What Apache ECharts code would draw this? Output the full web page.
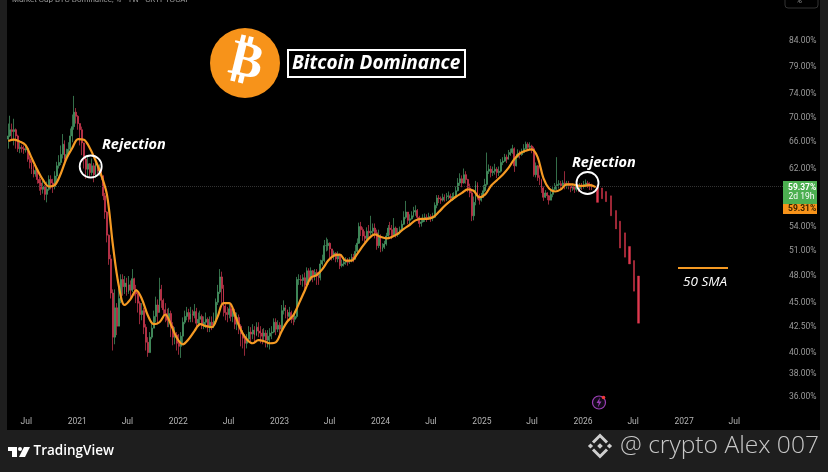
<!DOCTYPE html>
<html><head><meta charset="utf-8">
<style>html,body{margin:0;padding:0;background:#1e1e1e;overflow:hidden}#c{width:828px;height:472px;filter:blur(0.35px)}</style>
<script src="https://cdn.jsdelivr.net/npm/echarts@6/dist/echarts.min.js"></script>
</head><body><div id="c"></div>
<script>
const firstWeek = Date.UTC(2020,3,27);
const firstOpen = 66.5;
const closes = [
67,68,67.7,68,67,65,65.2,65,64.8,65,
63.4,62.9,61.9,61.2,61.7,60.4,59.9,59,59.4,58.3,
59,60.4,59.9,59.4,60.9,62.4,62.9,64.1,65.7,63.4,
64.1,64.9,67,68.5,70.9,70.2,69,68,65.9,63.4,
61.9,62.7,61.4,62.4,61.1,62.7,61.6,61.9,60.9,58.1,
55.9,52.9,50,46.1,41.5,44.5,42.6,45.5,47.6,46.8,
47.2,46.2,47,46.4,47.7,46.5,46,45,43.8,44.2,
42.5,41,40,41.5,42.4,43.6,44.8,44,46.5,45.3,
44.3,43.9,43.2,43.9,42.6,41.5,41.7,40.9,40.6,41.6,
43,43.6,44,43.3,43.9,43.7,44.1,42.9,43.3,43.6,
42.8,43,43.3,42.6,43,42.7,43.1,45.1,46.2,47.9,
46.6,44.7,44,43.8,44.4,43.6,44,42.8,43.5,42.6,
41.8,41.4,40.9,41.3,42,41.8,42.2,41.7,42.5,42.1,
41.9,41.6,41.9,41.2,41.6,41.9,42,43,42.3,42.7,
42.3,44.2,44.5,44.3,43.6,44,43.4,43.3,43.6,47.6,
47.6,47.5,47.8,47,48.6,47.6,48.6,48,48.4,48,
47.8,49.4,49.8,51.6,51.6,51.9,51.2,50.3,50.7,50,
50.5,49.2,49.4,49.6,49.8,49.6,49.8,50.2,50,50.9,
51.9,54,53.6,52.8,52.5,53.4,53.2,53.4,53.8,53.2,
51.6,52.8,51.2,51.4,51.8,52.8,53.8,53.6,52.8,53.8,
53,53.2,53.6,54.3,55.2,55.9,54.8,55,55.4,55.9,
56.1,55.2,54.4,54.6,55,55.2,55,55.3,55.1,55.2,
56.8,57.8,57.7,57.5,57.9,57.8,58,58.1,57.8,58,
58,58.8,59.9,60.5,59.9,61.1,60.4,59.2,58.5,55.4,
57.2,59.7,58.1,57.5,57.9,58.8,59.7,61.6,61.9,61.4,
61.6,61.9,61.4,61.6,62.9,63.1,63.7,63.4,64.1,64.4,
65,62.4,63.7,64.3,64.1,64.4,65,65.7,65.2,65.4,
65,61.1,62.4,60.7,60.4,59.2,57.9,58.5,58.1,57.5,
58.3,59,59.5,59.7,59.8,59.5,59.9,59.5,59.8,59.5,
59.2,59.4,59,59.4,59.1,59.5,59.4,59.7,59.9,59.7,59.4,59.37];
const highs = [
69,70.3,69,69.8,68.2,67.2,66,65.6,65.5,65.6,
65,63.8,63.2,62.5,62.5,61.8,60.8,60.5,60.2,59.6,
60.1,61,61,60.5,61.6,63,64,65.5,67.3,66.3,
65,66,68.2,70.5,73.7,71.6,70.4,69,68.5,65.5,
63.8,63.8,62.8,63.5,62.8,63.4,62.5,62.6,62,61,
58.5,56,53,50.5,46.5,46.5,45,47.6,48.2,48.2,
48,47.8,48,47.5,48.8,47.8,47,46.2,45.2,45,
44.5,42.8,41.5,42,43,44.2,45.7,45.4,47.8,47,
45.5,45,44.4,44.5,44.2,43,42.5,42,41.8,42,
43.5,44.2,44.6,44.4,44.6,44.3,44.9,44.5,44,44.2,
43.8,43.6,44,43.5,43.6,43.6,44,45.5,47,48.8,
48.5,47,45,44.6,44.9,44.8,44.6,44.4,44,43.8,
42.8,42.2,41.8,41.8,42.6,42.5,42.8,42.6,43,43,
42.6,42.3,42.4,42.2,42.2,42.4,42.6,43.4,43.4,43.2,
43,44.8,45.3,44.8,44.2,44.6,44.2,43.8,44.2,47.9,
48.2,48.1,48.2,48.4,49,48.9,49,48.7,48.8,48.8,
48.5,49.9,50.5,52.3,52.6,52.4,52,51.2,51,50.8,
50.9,50.6,49.9,50,50.2,50.1,50.2,50.6,50.6,51.7,
52.5,54.5,54.6,53.9,53.4,53.9,54.2,55.4,54.4,54.4,
53.6,53.6,53,51.9,52.2,53.2,54.2,54.6,54.2,55.1,
54,53.8,54,54.8,56,57.4,55.9,55.6,56,56.6,
56.8,56.3,55.4,55.1,55.6,55.7,55.6,55.8,55.6,55.8,
57.2,58.2,58.2,58,58.4,58.3,58.5,58.7,58.4,58.5,
58.6,59.4,60.6,61.3,61,62,61.6,60.5,59.8,58.9,
58,60.2,60,58.4,58.5,59.6,60.5,64.4,62.6,62.4,
62.3,62.7,62.2,62.3,63.4,63.7,64.2,64.1,64.8,65,
65.6,65.2,64.2,64.9,64.7,65,65.7,66.1,66,66,
65.6,65.3,62.9,62.5,61,60.5,59.4,58.9,58.6,58.2,
58.9,59.5,59.9,63.7,60.3,60.2,60.3,61.6,60.2,60.2,
59.8,59.8,59.6,59.8,59.7,59.9,59.9,60.2,60.4,60.2,60,59.8];
const lows = [
65,66.8,66.5,65.5,65,64.5,64.3,64.4,64.2,64.4,
63,62,61.2,60.7,60.8,59.8,58.8,58.2,58.4,57.5,
57.2,58.8,59,58.5,59,60.2,62,62.5,63.5,63,
63.6,64,64.5,66,68,69,68,65.5,64,62,
60.5,60.8,60.8,61,60,60.6,61,60.9,60.3,57.5,
55,52,49.3,45.5,40.2,40.8,41.7,43.5,45,45.8,
46,45.8,46,45.5,46.2,45.8,45,44,42.8,43.2,
41.8,40.2,39.6,40.4,41.3,42.8,43,42.9,44.5,44.5,
43.5,43,42.5,42.5,41.5,40.7,40.8,40.2,39.8,39.5,
40.8,42.8,43.2,43,43,43,43.4,42.4,42.5,42.6,
42.3,42.3,42.4,42,42,42.2,42.4,43,44.8,46,
44.9,43.6,43.2,43,43.4,43.1,43,42.3,42.2,41.8,
40.6,40.4,39.7,40.4,41,41.1,41.3,41,41.6,41.5,
40.9,40.8,41,40.5,40.5,40.3,41.3,41.9,41.7,42,
41.7,42.2,43.8,43.4,43,43.3,42.9,42.7,43,43.4,
47,47,46.8,46.4,46.9,47,47.4,47.3,47.5,47,
47,47.5,49.2,49.6,50.9,51,50,49.8,49.9,49.6,
49.6,48.8,49,49.1,49.3,49.2,49.4,49.6,49.6,49.9,
50.8,51.8,52.8,52.2,52,52.3,52.6,52.9,53,52.5,
51.1,51.3,50.8,50.9,51.2,51.6,52.7,52.9,52.4,52.7,
52.6,52.7,53,53.4,54.2,55,54.3,54.3,54.9,55.2,
55.4,54.7,53.9,54,54.5,54.6,54.6,54.9,54.6,54.7,
55.1,56.4,57.1,57,57.3,57.3,57.4,57.6,57.4,57.4,
57.5,57.9,58.7,59.5,59.3,59.8,59.8,58.6,57.9,54.7,
54.8,56.8,57.6,56.9,57.3,57.8,58.6,59.5,61.2,60.7,
60.9,61.1,60.6,60.9,61.4,62.5,63,62.8,63.3,63.9,
64.2,61.5,62.3,63.6,63.5,63.9,64.3,65,64.7,64.8,
64.3,60.8,60.7,60.2,59.6,58.5,57.4,57.8,57.5,56.9,
57.6,57.9,58.8,58.9,59.1,59,59.1,59,59.1,59,
58.6,58.8,58.5,58.7,58.6,58.9,58.9,59.1,59.3,59.2,58.9,58.9];
// 50-week SMA, read every third week
const smaEveryThirdWeek = [
66.2,66.4,66.1,65.5,63.6,61.8,60.3,59.4,59.6,61.2,63.5,65.1,66.5,66.4,65.1,63.2,61,58.1,51.6,46.9,
44.8,45.4,46.4,45.4,43.7,42.8,43,43.8,42.7,41.4,40.8,41.3,42.1,42.8,42.6,42.5,43.6,45,45,43.7,
42.2,41.3,40.9,41.2,41.1,40.9,41,
42.1,43.1,43.7,45,46.4,47.8,48.1,48.8,49.8,50.4,50.5,49.8,49.8,50.6,51.6,52.5,53,52.7,52.5,52.7,
53.1,53.7,54.2,54.8,55,55,55.2,55.9,56.7,57.4,58,58.5,59,58.8,57.9,58.3,59.5,60.3,61.1,62.1,
63.4,64.3,64.7,64.9,63.7,60.6,
59.1,58.7,59,59.7,59.7,59.5,59.5,59.6,59.31];
// the thick projected candles at the end
const projWeeks = [304,306.2,308.4,311,313.3,315.6,318.2,320.3,322.7,325];
const projOpen  = [59.5,59.2,58.7,58.1,56.1,54.7,53.2,51.5,49.8,48];
const projClose = [57.2,57.7,57.3,55.4,53.7,51.3,50.2,49.4,46.3,42.9];
const yTicks = [84,79,74,70,66,62,54,51,48,45,42.5,40,38,36];
const xTickDates = ['2020-07-01','2021-01-01','2021-07-01','2022-01-01','2022-07-01','2023-01-01','2023-07-01','2024-01-01','2024-07-01','2025-01-01','2025-07-01','2026-01-01','2026-07-01','2027-01-01','2027-07-01'];
const xTickLabels = ['Jul','2021','Jul','2022','Jul','2023','Jul','2024','Jul','2025','Jul','2026','Jul','2027','Jul'];
const lastPrice = 59.37;

const WEEK = 7*864e5;
const weekAt = i => firstWeek + i*WEEK;
const candles = closes.map((c,i)=>{
  const o = i ? closes[i-1] : firstOpen;
  return [weekAt(i), o, c, Math.min(lows[i],o,c), Math.max(highs[i],o,c)];
});
const proj = projWeeks.map((w,i)=>[weekAt(w),projOpen[i],projClose[i],projClose[i],projOpen[i]]);
const sma = smaEveryThirdWeek.map((v,k)=>[weekAt(k*3),v]);
const xTickTimes = xTickDates.map(d=>Date.parse(d));

const UP='#4b9e68', DOWN='#d23a52';
const white='#ffffff', ital={fontStyle:'italic',fontWeight:'bold',fontFamily:'"Open Sans"',fill:white};
const dia=(x,y,r)=>({type:'polygon',z:20,shape:{points:[[x,y-r],[x+r,y],[x,y+r],[x-r,y]]},style:{fill:'#cfcfcf'}});
const chev=(x,y,s)=>({type:'polyline',z:20,shape:{points:[[x-7,y+7*s],[x,y],[x+7,y+7*s]]},style:{stroke:'#cfcfcf',lineWidth:3,fill:null}});
const txt=(x,y,text,font,fill,extra)=>({type:'text',z:20,x,y,style:Object.assign({text,fontSize:font,fill,fontFamily:'Roboto',verticalAlign:'middle'},extra||{})});

const chart = echarts.init(document.getElementById('c'),null,{renderer:'canvas'});
chart.setOption({
  animation:false,
  backgroundColor:'#1e1e1e',
  grid:{left:8,right:45,top:0,bottom:42},
  xAxis:{type:'value',scale:true,min:Date.UTC(2020,3,26),max:Date.UTC(2027,11,24),
    axisLine:{show:false},axisTick:{show:false},splitLine:{show:false},
    axisLabel:{inside:true,margin:4,color:'#b4b4b4',fontSize:8.5,fontFamily:'Roboto',hideOverlap:false,
      customValues:xTickTimes,formatter:v=>xTickLabels[xTickTimes.indexOf(+v)]||''}},
  yAxis:{type:'log',position:'right',min:33.27,max:92.6,logBase:10,
    axisLine:{show:false},axisTick:{show:false},splitLine:{show:false},
    axisLabel:{margin:6,color:'#9a9a9a',fontSize:8.5,fontFamily:'Roboto',padding:[2,0,0,0],customValues:yTicks,formatter:v=>(+v).toFixed(2)+'%'}},
  graphic:{elements:[
    {type:'rect',z:-1,shape:{x:7,y:0,width:813,height:430},style:{fill:'#000'}},
    {type:'rect',z:20,shape:{x:785,y:-6,width:33,height:14,r:3},style:{fill:'#000',stroke:'#333',lineWidth:1}},
    txt(796,1,'%',8,'#9a9a9a'),
    txt(12,0,'Market Cap BTC Dominance, % · 1W · CRYPTOCAP',8,'#9a9a9a'),
    {type:'circle',z:20,shape:{cx:245,cy:63,r:35},style:{fill:'#f7931a'}},
    {type:'text',z:21,x:246,y:63,rotation:-0.24,style:{text:'₿',fontSize:50,fontWeight:'bold',fontFamily:'"DejaVu Sans"',fill:white,align:'center',verticalAlign:'middle'}},
    {type:'rect',z:20,shape:{x:288,y:50,width:177,height:27},style:{fill:'#000',stroke:white,lineWidth:2}},
    {type:'text',z:21,x:292,y:64,style:Object.assign({text:'Bitcoin Dominance',fontSize:19,verticalAlign:'middle'},ital)},
    {type:'text',z:21,x:102,y:144.5,style:Object.assign({text:'Rejection',fontSize:14.5,verticalAlign:'middle'},ital)},
    {type:'text',z:21,x:572,y:163,style:Object.assign({text:'Rejection',fontSize:14.5,verticalAlign:'middle'},ital)},
    {type:'circle',z:20,shape:{cx:90.7,cy:166.5,r:11},style:{fill:null,stroke:white,lineWidth:1.8}},
    {type:'circle',z:20,shape:{cx:587.5,cy:183,r:11},style:{fill:null,stroke:white,lineWidth:1.8}},
    {type:'line',z:20,shape:{x1:678,y1:268,x2:728,y2:268},style:{stroke:'#f59a23',lineWidth:2}},
    {type:'text',z:21,x:683,y:282.5,style:{text:'50 SMA',fontSize:13.5,fontStyle:'italic',fontWeight:500,fontFamily:'"Open Sans"',fill:white,verticalAlign:'middle'}},
    {type:'rect',z:20,shape:{x:783,y:181,width:34,height:23},style:{fill:'#4caf50'}},
    {type:'rect',z:20,shape:{x:783,y:204,width:34,height:10},style:{fill:'#f7931a'}},
    txt(788,187.5,'59.37%',8.5,white,{fontWeight:'bold'}),
    txt(788.5,197,'2d 19h',8.5,white),
    txt(788,209,'59.31%',8.5,'#3a2300',{fontWeight:'bold'}),
    {type:'circle',z:20,shape:{cx:599,cy:402.5,r:6.5},style:{fill:'#120a18',stroke:'#9b3fb5',lineWidth:1.2}},
    {type:'polygon',z:21,shape:{points:[[600,397.5],[596.5,403],[598.8,403],[597.8,407.5],[601.5,401.5],[599.2,401.5]]},style:{fill:'#9b3fb5'}},
    {type:'circle',z:21,shape:{cx:603.5,cy:397.5,r:1.8},style:{fill:'#ef3b3b'}},
    {type:'polygon',z:20,shape:{points:[[8,447],[17,447],[17,457],[12,457],[12,451],[8,451]]},style:{fill:white}},
    {type:'circle',z:20,shape:{cx:20,cy:449,r:2},style:{fill:white}},
    {type:'polygon',z:20,shape:{points:[[24,447],[30,447],[25,457],[19,457]]},style:{fill:white}},
    txt(33.5,451.5,'TradingView',13.5,white,{fontWeight:600,fontFamily:'"Open Sans"'}),
    dia(600,446,2.8),dia(590.5,446,2.6),dia(609.5,446,2.6),
    chev(600,435.5,1),chev(600,456.5,-1),
    txt(620,446,'@ crypto Alex 007',24.6,'#c8c8c8',{fontFamily:'"Open Sans"',fontWeight:300})
  ]},
  series:[
    {type:'candlestick',data:candles,barWidth:1.4,z:3,silent:true,
      itemStyle:{color:UP,color0:DOWN,borderColor:UP,borderColor0:DOWN,borderWidth:0.7},
      markLine:{silent:true,symbol:'none',label:{show:false},animation:false,
        lineStyle:{color:'#333',type:'dotted',width:1},data:[{yAxis:lastPrice}]}},
    {type:'candlestick',data:proj,barWidth:1.9,z:3,silent:true,
      itemStyle:{color:UP,color0:'#e0394f',borderColor:UP,borderColor0:'#e0394f',borderWidth:0.4}},
    {type:'line',data:sma,smooth:0.35,showSymbol:false,z:5,silent:true,
      lineStyle:{color:'#f59a23',width:2.2}}
  ]
});
</script></body></html>
